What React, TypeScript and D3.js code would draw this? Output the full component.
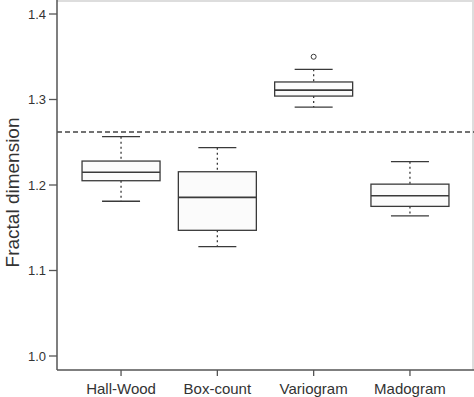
import React from "react";
import * as d3 from "d3";

const categories = ["Hall-Wood", "Box-count", "Variogram", "Madogram"];
const whiskerLow = [1.181, 1.128, 1.291, 1.164];
const q1 = [1.205, 1.147, 1.304, 1.175];
const medians = [1.215, 1.1855, 1.311, 1.1875];
const q3 = [1.228, 1.2155, 1.3205, 1.201];
const whiskerHigh = [1.2565, 1.2436, 1.3353, 1.2273];
const outliers = [[], [], [1.35], []];
const refLine = 1.262;
const yTicks = [1.0, 1.1, 1.2, 1.3, 1.4];

const W = 474, H = 397;
const left = 57, bottom = 370, right = 474;

export default function App() {
  const y = d3.scaleLinear().domain([1.0, 1.4]).range([356, 14]);
  const x = d3.scalePoint<string>().domain(categories).range([left, right]).padding(0.665);
  const boxW = 78;
  const capW = 38;
  const stroke = "#3a3a3a";
  const textCol = "#333";
  return (
    <svg width={W} height={H} style={{ position: "absolute", left: 0, top: 0, background: "#fff" }}
      fontFamily="Liberation Sans, Arial, sans-serif">
      <line x1={left} x2={right} y1={1} y2={1} stroke="#ddd" strokeWidth={2} />
      <line x1={right - 1} x2={right - 1} y1={0} y2={bottom} stroke="#ddd" strokeWidth={2} />
      <line x1={left} x2={right} y1={y(refLine)} y2={y(refLine)} stroke="#444" strokeWidth={1.3} strokeDasharray="5,3" />
      {categories.map((c, i) => {
        const cx = x(c)!;
        return (
          <g key={c}>
            <line x1={cx} x2={cx} y1={y(whiskerHigh[i])} y2={y(q3[i])} stroke={stroke} strokeWidth={1.3} strokeDasharray="2,3" />
            <line x1={cx} x2={cx} y1={y(q1[i])} y2={y(whiskerLow[i])} stroke={stroke} strokeWidth={1.3} strokeDasharray="2,3" />
            <line x1={cx - capW / 2} x2={cx + capW / 2} y1={y(whiskerHigh[i])} y2={y(whiskerHigh[i])} stroke={stroke} strokeWidth={1.3} />
            <line x1={cx - capW / 2} x2={cx + capW / 2} y1={y(whiskerLow[i])} y2={y(whiskerLow[i])} stroke={stroke} strokeWidth={1.3} />
            <rect x={cx - boxW / 2} y={y(q3[i])} width={boxW} height={y(q1[i]) - y(q3[i])} fill="#fbfbfb" stroke={stroke} strokeWidth={1.3} />
            <line x1={cx - boxW / 2} x2={cx + boxW / 2} y1={y(medians[i])} y2={y(medians[i])} stroke={stroke} strokeWidth={1.6} />
            {outliers[i].map((o, j) => (
              <circle key={j} cx={cx} cy={y(o)} r={2.5} fill="none" stroke={stroke} strokeWidth={1} />
            ))}
          </g>
        );
      })}
      <line x1={left} x2={left} y1={0} y2={bottom} stroke="#555" strokeWidth={1.5} />
      <line x1={left} x2={right} y1={bottom} y2={bottom} stroke="#555" strokeWidth={1.5} />
      {yTicks.map((t) => (
        <g key={t}>
          <line x1={left - 8} x2={left} y1={y(t)} y2={y(t)} stroke="#555" strokeWidth={1.3} />
          <text x={left - 11} y={y(t)} dy="0.35em" textAnchor="end" fontSize={13} fill={textCol}>{t.toFixed(1)}</text>
        </g>
      ))}
      {categories.map((c) => (
        <g key={c}>
          <line x1={x(c)!} x2={x(c)!} y1={bottom} y2={bottom + 6} stroke="#555" strokeWidth={1.3} />
          <text x={x(c)!} y={394} textAnchor="middle" fontSize={15} fill={textCol}>{c}</text>
        </g>
      ))}
      <text transform={`translate(19,${192.5}) rotate(-90)`} textAnchor="middle" fontSize={19} fill={textCol}>Fractal dimension</text>
    </svg>
  );
}
